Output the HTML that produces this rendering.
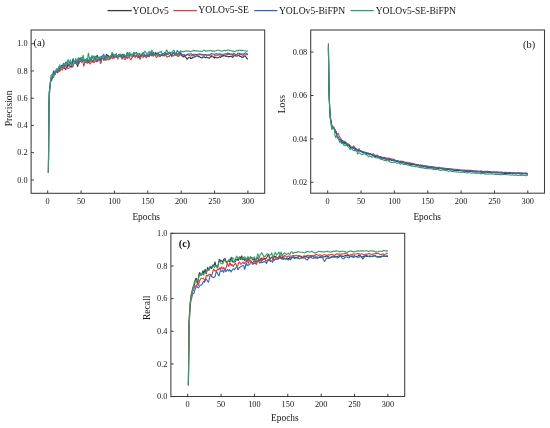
<!DOCTYPE html>
<html><head><meta charset="utf-8"><title>Figure</title>
<style>
html,body{margin:0;padding:0;background:#fff;}
body{width:550px;height:428px;overflow:hidden;}
svg{display:block;}
text{font-family:"Liberation Serif","Times New Roman",serif;fill:#141414;}
.t{font-size:8.3px;}
.l{font-size:9.4px;}
.yl{font-size:9.6px;}
.g{font-size:10.4px;}
.lg{font-size:9.6px;}
</style></head><body>
<svg width="550" height="428" viewBox="0 0 550 428">
<rect width="550" height="428" fill="#fff"/>
<line x1="107.5" y1="10.6" x2="131.8" y2="10.6" stroke="#3a3a3a" stroke-width="1.3"/>
<text x="132.6" y="14.1" class="lg" textLength="36.3" lengthAdjust="spacingAndGlyphs">YOLOv5</text>
<line x1="173.4" y1="10.6" x2="196.9" y2="10.6" stroke="#d53f3e" stroke-width="1.3"/>
<text x="198.3" y="13.3" class="lg" textLength="50.7" lengthAdjust="spacingAndGlyphs">YOLOv5-SE</text>
<line x1="254.2" y1="10.6" x2="277.3" y2="10.6" stroke="#2d69b8" stroke-width="1.3"/>
<text x="278.9" y="13.8" class="lg" textLength="66.2" lengthAdjust="spacingAndGlyphs">YOLOv5-BiFPN</text>
<line x1="350.6" y1="10.6" x2="373.8" y2="10.6" stroke="#339c6b" stroke-width="1.3"/>
<text x="375.7" y="13.8" class="lg" textLength="80.3" lengthAdjust="spacingAndGlyphs">YOLOv5-SE-BiFPN</text>
<rect x="31.1" y="30.0" width="233.6" height="163.3" fill="none" stroke="#3c3c3c" stroke-width="1.05"/>
<line x1="47.70" y1="193.3" x2="47.70" y2="190.5" stroke="#3c3c3c" stroke-width="1"/>
<text x="47.70" y="203.5" text-anchor="middle" class="t">0</text>
<line x1="81.07" y1="193.3" x2="81.07" y2="190.5" stroke="#3c3c3c" stroke-width="1"/>
<text x="81.07" y="203.5" text-anchor="middle" class="t">50</text>
<line x1="114.44" y1="193.3" x2="114.44" y2="190.5" stroke="#3c3c3c" stroke-width="1"/>
<text x="114.44" y="203.5" text-anchor="middle" class="t">100</text>
<line x1="147.81" y1="193.3" x2="147.81" y2="190.5" stroke="#3c3c3c" stroke-width="1"/>
<text x="147.81" y="203.5" text-anchor="middle" class="t">150</text>
<line x1="181.18" y1="193.3" x2="181.18" y2="190.5" stroke="#3c3c3c" stroke-width="1"/>
<text x="181.18" y="203.5" text-anchor="middle" class="t">200</text>
<line x1="214.55" y1="193.3" x2="214.55" y2="190.5" stroke="#3c3c3c" stroke-width="1"/>
<text x="214.55" y="203.5" text-anchor="middle" class="t">250</text>
<line x1="247.92" y1="193.3" x2="247.92" y2="190.5" stroke="#3c3c3c" stroke-width="1"/>
<text x="247.92" y="203.5" text-anchor="middle" class="t">300</text>
<line x1="31.1" y1="179.90" x2="33.9" y2="179.90" stroke="#3c3c3c" stroke-width="1"/>
<text x="27.6" y="182.50" text-anchor="end" class="t">0.0</text>
<line x1="31.1" y1="152.66" x2="33.9" y2="152.66" stroke="#3c3c3c" stroke-width="1"/>
<text x="27.6" y="155.26" text-anchor="end" class="t">0.2</text>
<line x1="31.1" y1="125.42" x2="33.9" y2="125.42" stroke="#3c3c3c" stroke-width="1"/>
<text x="27.6" y="128.02" text-anchor="end" class="t">0.4</text>
<line x1="31.1" y1="98.18" x2="33.9" y2="98.18" stroke="#3c3c3c" stroke-width="1"/>
<text x="27.6" y="100.78" text-anchor="end" class="t">0.6</text>
<line x1="31.1" y1="70.94" x2="33.9" y2="70.94" stroke="#3c3c3c" stroke-width="1"/>
<text x="27.6" y="73.54" text-anchor="end" class="t">0.8</text>
<line x1="31.1" y1="43.70" x2="33.9" y2="43.70" stroke="#3c3c3c" stroke-width="1"/>
<text x="27.6" y="46.30" text-anchor="end" class="t">1.0</text>
<text transform="translate(11.6,108.4) rotate(-90)" text-anchor="middle" class="yl">Precision</text>
<text x="146.2" y="219.8" text-anchor="middle" class="l">Epochs</text>
<text x="33.5" y="45.9" class="g">(a)</text>
<polyline points="48.4,173.1 49.0,105.0 49.7,88.6 50.4,82.5 51.0,80.3 51.7,77.2 52.4,78.4 53.0,75.6 53.7,71.1 54.4,73.0 55.0,73.6 55.7,71.3 56.4,71.0 57.0,71.5 57.7,72.8 58.4,71.1 59.0,68.4 59.7,68.4 60.4,70.3 61.0,68.0 61.7,65.2 62.4,67.8 63.1,64.8 63.7,64.0 64.4,68.5 65.1,68.7 65.7,69.6 66.4,67.3 67.1,64.4 67.7,66.6 68.4,64.3 69.1,65.3 69.7,65.7 70.4,66.0 71.1,67.4 71.7,66.0 72.4,63.0 73.1,58.9 73.7,61.1 74.4,62.1 75.1,61.8 75.7,62.0 76.4,62.5 77.1,65.3 77.7,66.4 78.4,63.6 79.1,58.4 79.7,58.4 80.4,61.7 81.1,59.5 81.7,58.5 82.4,60.6 83.1,60.4 83.7,60.6 84.4,61.2 85.1,62.6 85.7,61.5 86.4,59.8 87.1,58.8 87.7,59.1 88.4,62.6 89.1,62.2 89.7,57.8 90.4,58.1 91.1,61.0 91.7,61.8 92.4,61.9 93.1,60.8 93.8,60.8 94.4,58.6 95.1,57.5 95.8,59.0 96.4,57.0 97.1,55.3 97.8,57.1 98.4,58.3 99.1,57.2 99.8,57.7 100.4,60.3 101.1,59.3 101.8,56.3 102.4,56.5 103.1,58.3 103.8,58.9 104.4,58.5 105.1,58.5 105.8,56.4 106.4,54.4 107.1,54.9 107.8,55.9 108.4,55.8 109.1,56.3 109.8,57.0 110.4,57.7 111.1,57.6 111.8,54.4 112.4,53.4 113.1,56.0 113.8,57.4 114.4,57.9 115.1,56.9 115.8,55.6 116.4,57.4 117.1,57.3 117.8,56.4 118.4,55.4 119.1,54.6 119.8,54.3 120.4,54.8 121.1,56.8 121.8,56.0 122.4,54.6 123.1,54.3 123.8,56.5 124.5,56.9 125.1,55.6 125.8,56.2 126.5,56.8 127.1,54.6 127.8,54.3 128.5,56.8 129.1,55.8 129.8,54.8 130.5,55.4 131.1,54.8 131.8,54.2 132.5,54.6 133.1,54.1 133.8,54.1 134.5,55.6 135.1,56.1 135.8,56.0 136.5,55.4 137.1,55.9 137.8,57.8 138.5,56.6 139.1,56.2 139.8,58.0 140.5,56.4 141.1,55.2 141.8,55.1 142.5,54.9 143.1,56.3 143.8,56.9 144.5,56.3 145.1,55.4 145.8,55.7 146.5,55.6 147.1,56.2 147.8,55.9 148.5,56.1 149.1,56.3 149.8,54.1 150.5,52.9 151.1,52.0 151.8,54.3 152.5,55.1 153.1,52.7 153.8,52.5 154.5,54.3 155.2,54.8 155.8,52.4 156.5,54.0 157.2,55.2 157.8,52.9 158.5,53.9 159.2,54.3 159.8,54.6 160.5,55.8 161.2,55.5 161.8,54.7 162.5,54.0 163.2,53.4 163.8,54.1 164.5,55.0 165.2,53.4 165.8,52.8 166.5,54.6 167.2,54.5 167.8,53.8 168.5,54.0 169.2,53.4 169.8,52.7 170.5,52.8 171.2,55.3 171.8,56.5 172.5,54.4 173.2,53.5 173.8,53.1 174.5,52.7 175.2,54.2 175.8,53.5 176.5,53.5 177.2,56.0 177.8,53.7 178.5,53.6 179.2,54.7 179.8,52.5 180.5,53.0 181.2,55.4 181.8,55.2 182.5,56.4 183.2,56.9 183.8,56.6 184.5,56.7 185.2,56.5 185.9,57.4 186.5,58.4 187.2,59.3 187.9,58.3 188.5,57.6 189.2,57.5 189.9,57.3 190.5,58.4 191.2,58.4 191.9,58.5 192.5,57.3 193.2,57.2 193.9,57.4 194.5,56.7 195.2,56.8 195.9,56.0 196.5,55.9 197.2,55.9 197.9,56.4 198.5,56.7 199.2,56.4 199.9,56.9 200.5,57.5 201.2,57.6 201.9,58.2 202.5,57.3 203.2,56.7 203.9,57.2 204.5,56.9 205.2,57.7 205.9,57.7 206.5,56.9 207.2,57.4 207.9,57.9 208.5,57.7 209.2,58.2 209.9,57.5 210.5,56.6 211.2,56.8 211.9,56.4 212.5,56.8 213.2,57.0 213.9,57.3 214.6,58.1 215.2,57.4 215.9,57.2 216.6,57.7 217.2,57.7 217.9,57.8 218.6,57.6 219.2,57.1 219.9,56.7 220.6,57.4 221.2,56.8 221.9,56.3 222.6,55.9 223.2,55.1 223.9,55.7 224.6,55.6 225.2,56.1 225.9,56.1 226.6,56.5 227.2,56.2 227.9,56.3 228.6,56.9 229.2,56.6 229.9,56.6 230.6,56.3 231.2,56.4 231.9,56.7 232.6,57.4 233.2,56.7 233.9,56.0 234.6,55.5 235.2,55.1 235.9,56.1 236.6,56.0 237.2,55.9 237.9,55.7 238.6,55.5 239.2,55.6 239.9,56.4 240.6,56.3 241.2,56.6 241.9,57.4 242.6,57.1 243.2,57.2 243.9,56.2 244.6,55.9 245.3,56.1 245.9,56.7 246.6,58.2 247.3,58.9 247.9,58.7" fill="none" stroke="#3a3a3a" stroke-width="1.1" stroke-linejoin="round"/>
<polyline points="48.4,173.1 49.0,105.0 49.7,88.6 50.4,82.5 51.0,78.4 51.7,77.2 52.4,76.0 53.0,75.8 53.7,75.4 54.4,74.1 55.0,74.6 55.7,72.5 56.4,71.5 57.0,72.0 57.7,70.7 58.4,68.9 59.0,71.6 59.7,71.5 60.4,68.1 61.0,69.6 61.7,69.7 62.4,70.1 63.1,68.3 63.7,66.5 64.4,68.3 65.1,66.0 65.7,65.7 66.4,66.3 67.1,67.2 67.7,68.6 68.4,68.8 69.1,68.0 69.7,64.5 70.4,63.7 71.1,63.6 71.7,65.1 72.4,67.2 73.1,66.3 73.7,64.2 74.4,62.9 75.1,63.5 75.7,63.0 76.4,63.0 77.1,63.7 77.7,61.7 78.4,62.3 79.1,63.6 79.7,60.7 80.4,60.6 81.1,61.6 81.7,62.4 82.4,60.7 83.1,62.6 83.7,66.2 84.4,64.6 85.1,61.2 85.7,59.4 86.4,61.5 87.1,63.4 87.7,62.5 88.4,60.7 89.1,61.9 89.7,63.6 90.4,64.0 91.1,61.9 91.7,60.2 92.4,60.2 93.1,60.7 93.8,62.7 94.4,62.3 95.1,61.4 95.8,61.3 96.4,59.5 97.1,60.2 97.8,61.8 98.4,59.8 99.1,58.2 99.8,59.9 100.4,63.5 101.1,62.8 101.8,58.7 102.4,57.3 103.1,58.7 103.8,60.5 104.4,60.1 105.1,58.5 105.8,59.2 106.4,60.1 107.1,59.7 107.8,59.3 108.4,59.8 109.1,59.6 109.8,58.4 110.4,59.0 111.1,57.8 111.8,56.4 112.4,58.6 113.1,58.7 113.8,56.3 114.4,57.6 115.1,56.7 115.8,56.2 116.4,56.2 117.1,57.0 117.8,59.1 118.4,57.2 119.1,54.2 119.8,54.7 120.4,55.9 121.1,57.0 121.8,59.1 122.4,58.8 123.1,56.0 123.8,57.6 124.5,59.5 125.1,59.5 125.8,58.9 126.5,56.1 127.1,57.4 127.8,58.6 128.5,56.1 129.1,55.8 129.8,58.1 130.5,59.3 131.1,59.9 131.8,57.9 132.5,56.7 133.1,56.4 133.8,54.9 134.5,56.4 135.1,57.7 135.8,56.3 136.5,55.7 137.1,56.1 137.8,57.7 138.5,57.1 139.1,56.4 139.8,59.2 140.5,58.9 141.1,56.5 141.8,54.0 142.5,54.7 143.1,57.7 143.8,55.4 144.5,54.1 145.1,56.2 145.8,57.2 146.5,57.9 147.1,55.6 147.8,54.9 148.5,56.6 149.1,56.8 149.8,55.0 150.5,55.0 151.1,55.8 151.8,55.1 152.5,55.4 153.1,56.3 153.8,55.9 154.5,53.8 155.2,54.4 155.8,56.5 156.5,57.6 157.2,56.6 157.8,55.7 158.5,55.9 159.2,55.7 159.8,56.8 160.5,56.1 161.2,54.7 161.8,55.4 162.5,55.4 163.2,54.5 163.8,54.6 164.5,56.1 165.2,55.2 165.8,54.8 166.5,56.3 167.2,57.2 167.8,56.6 168.5,56.2 169.2,56.6 169.8,55.3 170.5,54.9 171.2,54.4 171.8,54.2 172.5,55.3 173.2,55.8 173.8,55.9 174.5,55.0 175.2,54.6 175.8,55.4 176.5,54.8 177.2,54.3 177.8,55.4 178.5,56.6 179.2,55.8 179.8,54.5 180.5,54.8 181.2,55.0 181.8,54.9 182.5,55.0 183.2,54.7 183.8,55.0 184.5,55.5 185.2,55.3 185.9,55.3 186.5,55.3 187.2,54.8 187.9,54.8 188.5,55.3 189.2,55.3 189.9,55.6 190.5,56.1 191.2,55.6 191.9,55.8 192.5,55.8 193.2,55.5 193.9,55.5 194.5,55.1 195.2,54.4 195.9,54.6 196.5,54.6 197.2,55.0 197.9,55.5 198.5,55.0 199.2,54.8 199.9,54.6 200.5,54.8 201.2,54.8 201.9,55.1 202.5,54.7 203.2,54.9 203.9,54.8 204.5,54.5 205.2,54.6 205.9,54.6 206.5,55.0 207.2,55.2 207.9,55.3 208.5,55.1 209.2,55.1 209.9,55.1 210.5,54.8 211.2,55.3 211.9,55.6 212.5,56.0 213.2,56.6 213.9,56.5 214.6,56.0 215.2,55.5 215.9,55.4 216.6,55.1 217.2,55.2 217.9,55.2 218.6,55.0 219.2,55.0 219.9,54.9 220.6,55.3 221.2,55.1 221.9,55.7 222.6,56.0 223.2,56.0 223.9,56.1 224.6,55.6 225.2,55.0 225.9,55.1 226.6,54.7 227.2,54.2 227.9,54.7 228.6,54.1 229.2,54.1 229.9,53.9 230.6,54.5 231.2,54.3 231.9,54.9 232.6,55.5 233.2,54.7 233.9,55.4 234.6,55.4 235.2,54.9 235.9,55.2 236.6,54.7 237.2,55.0 237.9,55.0 238.6,55.0 239.2,55.2 239.9,54.4 240.6,54.4 241.2,54.6 241.9,54.6 242.6,55.3 243.2,55.3 243.9,55.0 244.6,54.9 245.3,54.7 245.9,54.8 246.6,54.7 247.3,54.5 247.9,54.6" fill="none" stroke="#d53f3e" stroke-width="1.1" stroke-linejoin="round"/>
<polyline points="48.4,173.1 49.0,92.7 49.7,88.6 50.4,82.5 51.0,80.9 51.7,80.6 52.4,76.8 53.0,73.1 53.7,70.8 54.4,71.6 55.0,74.5 55.7,72.9 56.4,70.6 57.0,70.0 57.7,69.0 58.4,68.1 59.0,67.0 59.7,66.4 60.4,67.6 61.0,67.0 61.7,66.7 62.4,67.6 63.1,64.0 63.7,63.3 64.4,67.2 65.1,65.3 65.7,62.0 66.4,62.2 67.1,63.0 67.7,63.8 68.4,64.2 69.1,65.3 69.7,62.7 70.4,62.0 71.1,64.5 71.7,64.3 72.4,61.0 73.1,59.1 73.7,61.9 74.4,62.9 75.1,61.6 75.7,60.3 76.4,62.8 77.1,62.6 77.7,60.7 78.4,62.6 79.1,62.6 79.7,60.6 80.4,57.8 81.1,58.5 81.7,59.9 82.4,60.9 83.1,60.9 83.7,58.7 84.4,61.0 85.1,62.5 85.7,59.6 86.4,61.0 87.1,62.3 87.7,59.4 88.4,60.8 89.1,61.9 89.7,59.7 90.4,58.1 91.1,59.5 91.7,59.2 92.4,57.3 93.1,57.1 93.8,56.0 94.4,56.9 95.1,57.6 95.8,59.8 96.4,61.8 97.1,60.9 97.8,59.6 98.4,57.4 99.1,58.9 99.8,60.2 100.4,59.6 101.1,60.8 101.8,57.7 102.4,55.8 103.1,55.5 103.8,54.3 104.4,56.9 105.1,60.1 105.8,56.8 106.4,55.2 107.1,58.5 107.8,57.3 108.4,55.8 109.1,57.2 109.8,57.6 110.4,56.7 111.1,56.1 111.8,55.4 112.4,55.8 113.1,56.9 113.8,55.9 114.4,55.2 115.1,54.6 115.8,55.1 116.4,56.3 117.1,57.2 117.8,55.5 118.4,55.7 119.1,57.0 119.8,56.4 120.4,56.2 121.1,54.6 121.8,56.5 122.4,57.4 123.1,57.4 123.8,55.8 124.5,54.5 125.1,57.3 125.8,57.6 126.5,54.7 127.1,52.6 127.8,52.6 128.5,54.7 129.1,56.0 129.8,53.7 130.5,54.2 131.1,56.0 131.8,56.2 132.5,57.0 133.1,54.9 133.8,53.2 134.5,53.9 135.1,53.9 135.8,53.3 136.5,52.4 137.1,53.3 137.8,55.0 138.5,55.9 139.1,54.6 139.8,54.1 140.5,56.4 141.1,56.1 141.8,54.7 142.5,53.7 143.1,52.8 143.8,54.1 144.5,55.7 145.1,55.3 145.8,55.6 146.5,55.4 147.1,53.9 147.8,53.7 148.5,55.5 149.1,56.6 149.8,54.0 150.5,53.9 151.1,54.3 151.8,52.9 152.5,53.8 153.1,55.1 153.8,54.7 154.5,54.5 155.2,54.9 155.8,54.0 156.5,54.4 157.2,54.7 157.8,54.3 158.5,55.2 159.2,55.0 159.8,54.5 160.5,55.9 161.2,55.6 161.8,54.3 162.5,54.5 163.2,55.9 163.8,54.8 164.5,52.5 165.2,52.5 165.8,52.8 166.5,54.4 167.2,54.5 167.8,54.2 168.5,52.5 169.2,52.2 169.8,53.4 170.5,54.2 171.2,55.7 171.8,54.9 172.5,53.3 173.2,52.4 173.8,52.7 174.5,54.7 175.2,54.0 175.8,53.2 176.5,52.8 177.2,50.5 177.8,51.2 178.5,51.9 179.2,53.5 179.8,52.4 180.5,51.8 181.2,53.4 181.8,54.7 182.5,54.8 183.2,54.9 183.8,55.0 184.5,54.6 185.2,55.5 185.9,55.4 186.5,54.8 187.2,54.4 187.9,54.0 188.5,54.1 189.2,54.3 189.9,53.9 190.5,54.1 191.2,53.7 191.9,54.4 192.5,54.6 193.2,54.5 193.9,54.2 194.5,54.4 195.2,54.6 195.9,54.7 196.5,55.1 197.2,54.4 197.9,54.3 198.5,54.0 199.2,54.0 199.9,53.9 200.5,54.1 201.2,54.4 201.9,54.4 202.5,54.6 203.2,55.2 203.9,54.6 204.5,55.2 205.2,54.9 205.9,54.7 206.5,55.3 207.2,55.0 207.9,55.0 208.5,54.8 209.2,55.1 209.9,54.7 210.5,54.2 211.2,53.8 211.9,53.3 212.5,53.8 213.2,54.3 213.9,54.2 214.6,54.5 215.2,53.8 215.9,53.8 216.6,53.8 217.2,53.7 217.9,54.2 218.6,54.1 219.2,54.1 219.9,53.8 220.6,54.0 221.2,54.3 221.9,54.4 222.6,55.2 223.2,54.5 223.9,54.1 224.6,54.1 225.2,53.7 225.9,53.8 226.6,54.0 227.2,53.3 227.9,52.9 228.6,53.7 229.2,53.4 229.9,54.2 230.6,54.5 231.2,54.1 231.9,54.3 232.6,54.1 233.2,53.6 233.9,53.4 234.6,53.6 235.2,54.1 235.9,54.7 236.6,54.7 237.2,54.1 237.9,53.1 238.6,53.2 239.2,53.3 239.9,53.7 240.6,54.4 241.2,53.9 241.9,54.0 242.6,54.0 243.2,54.1 243.9,54.0 244.6,53.6 245.3,52.9 245.9,52.9 246.6,53.4 247.3,53.8 247.9,54.6" fill="none" stroke="#2d69b8" stroke-width="1.1" stroke-linejoin="round"/>
<polyline points="48.4,173.1 49.0,106.4 49.7,88.6 50.4,82.5 51.0,75.3 51.7,74.8 52.4,75.0 53.0,75.9 53.7,77.4 54.4,74.8 55.0,73.2 55.7,70.8 56.4,68.6 57.0,71.1 57.7,70.7 58.4,69.5 59.0,67.1 59.7,64.7 60.4,66.7 61.0,67.0 61.7,66.9 62.4,66.3 63.1,66.9 63.7,65.5 64.4,63.9 65.1,63.5 65.7,63.7 66.4,63.5 67.1,64.2 67.7,60.0 68.4,59.7 69.1,64.8 69.7,62.3 70.4,59.9 71.1,62.0 71.7,65.6 72.4,66.1 73.1,65.1 73.7,64.1 74.4,62.8 75.1,60.3 75.7,58.5 76.4,60.5 77.1,61.0 77.7,59.0 78.4,57.7 79.1,58.9 79.7,61.5 80.4,60.2 81.1,57.3 81.7,58.7 82.4,58.0 83.1,55.2 83.7,57.8 84.4,61.6 85.1,61.9 85.7,60.3 86.4,58.8 87.1,60.3 87.7,57.9 88.4,53.1 89.1,56.7 89.7,61.5 90.4,60.8 91.1,58.0 91.7,56.1 92.4,55.7 93.1,57.4 93.8,60.4 94.4,59.5 95.1,56.2 95.8,57.0 96.4,57.6 97.1,56.9 97.8,57.4 98.4,58.8 99.1,58.0 99.8,58.2 100.4,57.0 101.1,56.3 101.8,57.2 102.4,56.9 103.1,57.0 103.8,56.3 104.4,56.1 105.1,56.6 105.8,58.8 106.4,58.2 107.1,56.7 107.8,57.9 108.4,58.2 109.1,58.3 109.8,57.4 110.4,55.9 111.1,56.0 111.8,52.8 112.4,52.6 113.1,54.8 113.8,54.3 114.4,54.8 115.1,56.0 115.8,54.9 116.4,53.2 117.1,57.0 117.8,58.1 118.4,55.5 119.1,55.9 119.8,54.3 120.4,54.2 121.1,54.5 121.8,54.5 122.4,55.7 123.1,54.4 123.8,54.7 124.5,55.5 125.1,55.8 125.8,56.5 126.5,54.7 127.1,53.2 127.8,55.0 128.5,56.6 129.1,53.1 129.8,52.5 130.5,55.7 131.1,54.6 131.8,54.4 132.5,55.2 133.1,53.6 133.8,52.3 134.5,53.3 135.1,53.0 135.8,52.9 136.5,54.3 137.1,54.1 137.8,54.2 138.5,53.6 139.1,53.1 139.8,54.2 140.5,54.3 141.1,54.0 141.8,54.7 142.5,54.3 143.1,52.8 143.8,52.4 144.5,52.2 145.1,51.0 145.8,52.1 146.5,54.0 147.1,54.6 147.8,53.8 148.5,52.3 149.1,51.2 149.8,53.1 150.5,53.6 151.1,51.5 151.8,50.2 152.5,50.9 153.1,53.1 153.8,54.5 154.5,55.1 155.2,54.7 155.8,54.9 156.5,54.7 157.2,55.1 157.8,54.4 158.5,52.8 159.2,52.0 159.8,52.4 160.5,52.1 161.2,51.1 161.8,53.3 162.5,54.4 163.2,54.1 163.8,54.7 164.5,53.5 165.2,52.8 165.8,51.7 166.5,49.9 167.2,50.7 167.8,52.5 168.5,53.0 169.2,52.8 169.8,52.2 170.5,52.8 171.2,52.8 171.8,52.3 172.5,51.9 173.2,50.6 173.8,50.1 174.5,51.3 175.2,53.7 175.8,54.9 176.5,54.1 177.2,53.8 177.8,54.9 178.5,54.0 179.2,53.4 179.8,52.5 180.5,50.7 181.2,51.2 181.8,51.6 182.5,51.6 183.2,51.8 183.8,51.5 184.5,51.4 185.2,51.1 185.9,51.1 186.5,51.2 187.2,50.8 187.9,51.0 188.5,51.0 189.2,51.1 189.9,51.5 190.5,51.5 191.2,51.3 191.9,51.2 192.5,50.9 193.2,50.4 193.9,50.6 194.5,50.5 195.2,50.7 195.9,51.1 196.5,50.9 197.2,51.1 197.9,51.3 198.5,50.9 199.2,51.0 199.9,51.2 200.5,51.3 201.2,51.6 201.9,51.5 202.5,51.1 203.2,50.4 203.9,50.4 204.5,50.4 205.2,50.9 205.9,51.1 206.5,50.9 207.2,51.1 207.9,50.8 208.5,50.8 209.2,51.0 209.9,50.5 210.5,50.7 211.2,50.5 211.9,50.8 212.5,51.2 213.2,51.1 213.9,51.4 214.6,51.2 215.2,51.0 215.9,50.8 216.6,50.4 217.2,50.2 217.9,50.3 218.6,50.2 219.2,50.6 219.9,50.7 220.6,50.8 221.2,51.1 221.9,51.2 222.6,50.9 223.2,50.6 223.9,50.5 224.6,50.4 225.2,50.6 225.9,50.7 226.6,50.4 227.2,50.3 227.9,49.9 228.6,50.0 229.2,50.2 229.9,50.7 230.6,50.8 231.2,50.8 231.9,51.1 232.6,51.0 233.2,51.1 233.9,51.4 234.6,51.5 235.2,51.2 235.9,51.2 236.6,50.7 237.2,50.8 237.9,50.6 238.6,50.4 239.2,50.3 239.9,50.2 240.6,50.4 241.2,50.4 241.9,50.6 242.6,50.4 243.2,50.6 243.9,50.7 244.6,50.7 245.3,50.7 245.9,50.9 246.6,51.3 247.3,51.1 247.9,50.7" fill="none" stroke="#339c6b" stroke-width="1.1" stroke-linejoin="round"/>
<rect x="310.7" y="30.0" width="233.8" height="163.2" fill="none" stroke="#3c3c3c" stroke-width="1.05"/>
<line x1="327.70" y1="193.2" x2="327.70" y2="190.39999999999998" stroke="#3c3c3c" stroke-width="1"/>
<text x="327.70" y="203.5" text-anchor="middle" class="t">0</text>
<line x1="361.05" y1="193.2" x2="361.05" y2="190.39999999999998" stroke="#3c3c3c" stroke-width="1"/>
<text x="361.05" y="203.5" text-anchor="middle" class="t">50</text>
<line x1="394.40" y1="193.2" x2="394.40" y2="190.39999999999998" stroke="#3c3c3c" stroke-width="1"/>
<text x="394.40" y="203.5" text-anchor="middle" class="t">100</text>
<line x1="427.75" y1="193.2" x2="427.75" y2="190.39999999999998" stroke="#3c3c3c" stroke-width="1"/>
<text x="427.75" y="203.5" text-anchor="middle" class="t">150</text>
<line x1="461.10" y1="193.2" x2="461.10" y2="190.39999999999998" stroke="#3c3c3c" stroke-width="1"/>
<text x="461.10" y="203.5" text-anchor="middle" class="t">200</text>
<line x1="494.45" y1="193.2" x2="494.45" y2="190.39999999999998" stroke="#3c3c3c" stroke-width="1"/>
<text x="494.45" y="203.5" text-anchor="middle" class="t">250</text>
<line x1="527.80" y1="193.2" x2="527.80" y2="190.39999999999998" stroke="#3c3c3c" stroke-width="1"/>
<text x="527.80" y="203.5" text-anchor="middle" class="t">300</text>
<line x1="310.7" y1="182.30" x2="313.5" y2="182.30" stroke="#3c3c3c" stroke-width="1"/>
<text x="307.2" y="184.90" text-anchor="end" class="t">0.02</text>
<line x1="310.7" y1="138.90" x2="313.5" y2="138.90" stroke="#3c3c3c" stroke-width="1"/>
<text x="307.2" y="141.50" text-anchor="end" class="t">0.04</text>
<line x1="310.7" y1="95.50" x2="313.5" y2="95.50" stroke="#3c3c3c" stroke-width="1"/>
<text x="307.2" y="98.10" text-anchor="end" class="t">0.06</text>
<line x1="310.7" y1="52.10" x2="313.5" y2="52.10" stroke="#3c3c3c" stroke-width="1"/>
<text x="307.2" y="54.70" text-anchor="end" class="t">0.08</text>
<text transform="translate(285.3,104.2) rotate(-90)" text-anchor="middle" class="yl">Loss</text>
<text x="427.2" y="219.8" text-anchor="middle" class="l">Epochs</text>
<text x="523.1" y="47.8" class="g">(b)</text>
<polyline points="328.4,43.2 329.0,91.2 329.7,108.5 330.4,117.9 331.0,120.2 331.7,124.1 332.4,127.8 333.0,128.3 333.7,128.7 334.4,128.0 335.0,130.9 335.7,132.4 336.4,131.6 337.0,133.7 337.7,134.2 338.4,133.6 339.0,135.4 339.7,137.3 340.4,137.9 341.0,138.8 341.7,140.1 342.4,141.3 343.0,140.8 343.7,141.2 344.4,141.5 345.0,141.2 345.7,142.6 346.4,143.3 347.0,143.4 347.7,144.2 348.4,144.0 349.0,144.3 349.7,145.2 350.4,146.7 351.0,146.9 351.7,147.0 352.4,147.8 353.0,146.6 353.7,145.8 354.4,147.2 355.0,149.0 355.7,148.9 356.4,148.8 357.0,149.1 357.7,149.9 358.4,149.8 359.0,148.7 359.7,150.2 360.4,151.5 361.1,151.4 361.7,151.0 362.4,151.8 363.1,152.2 363.7,151.7 364.4,152.4 365.1,152.2 365.7,152.9 366.4,153.9 367.1,153.7 367.7,153.1 368.4,153.1 369.1,153.9 369.7,153.8 370.4,153.9 371.1,154.5 371.7,154.6 372.4,154.5 373.1,153.7 373.7,154.3 374.4,155.3 375.1,155.2 375.7,155.5 376.4,155.2 377.1,155.0 377.7,155.5 378.4,156.0 379.1,156.6 379.7,156.6 380.4,156.6 381.1,157.0 381.7,156.9 382.4,157.2 383.1,157.8 383.7,157.4 384.4,157.4 385.1,157.6 385.7,158.0 386.4,158.1 387.1,158.2 387.7,158.2 388.4,158.0 389.1,158.4 389.7,158.4 390.4,158.6 391.1,159.2 391.7,159.1 392.4,159.0 393.1,159.2 393.7,159.4 394.4,159.6 395.1,159.9 395.7,160.6 396.4,160.8 397.1,160.5 397.7,160.8 398.4,161.5 399.1,161.5 399.7,161.2 400.4,161.0 401.1,161.4 401.7,161.4 402.4,161.4 403.1,161.4 403.7,161.5 404.4,162.0 405.1,162.2 405.7,162.3 406.4,162.4 407.1,162.4 407.7,162.7 408.4,162.7 409.1,162.8 409.7,163.0 410.4,163.1 411.1,163.4 411.7,163.4 412.4,163.3 413.1,163.4 413.7,163.6 414.4,163.9 415.1,164.1 415.7,164.2 416.4,164.6 417.1,164.9 417.7,164.5 418.4,164.5 419.1,165.3 419.7,165.4 420.4,165.1 421.1,165.4 421.7,165.2 422.4,164.9 423.1,165.3 423.7,165.5 424.4,165.7 425.1,165.6 425.7,165.7 426.4,166.0 427.1,166.1 427.8,166.1 428.4,166.2 429.1,166.4 429.8,166.5 430.4,166.5 431.1,166.6 431.8,166.6 432.4,166.9 433.1,166.9 433.8,166.7 434.4,167.1 435.1,167.3 435.8,167.3 436.4,167.4 437.1,167.3 437.8,167.2 438.4,167.2 439.1,167.3 439.8,167.8 440.4,167.8 441.1,168.1 441.8,168.0 442.4,167.7 443.1,167.9 443.8,168.0 444.4,168.3 445.1,168.4 445.8,168.4 446.4,168.6 447.1,168.5 447.8,168.6 448.4,168.6 449.1,168.6 449.8,168.8 450.4,168.8 451.1,169.1 451.8,169.1 452.4,169.0 453.1,169.1 453.8,169.2 454.4,169.3 455.1,169.3 455.8,169.4 456.4,169.5 457.1,169.4 457.8,169.6 458.4,169.9 459.1,169.9 459.8,170.0 460.4,170.1 461.1,170.1 461.8,170.0 462.4,170.0 463.1,170.2 463.8,170.2 464.4,170.0 465.1,170.1 465.8,170.3 466.4,170.5 467.1,170.2 467.8,170.0 468.4,170.2 469.1,170.5 469.8,170.4 470.4,170.4 471.1,170.4 471.8,170.5 472.4,170.7 473.1,170.7 473.8,170.7 474.4,170.8 475.1,170.8 475.8,170.8 476.4,171.0 477.1,171.0 477.8,170.9 478.4,171.2 479.1,171.3 479.8,171.1 480.4,171.1 481.1,170.9 481.8,171.1 482.4,171.3 483.1,171.4 483.8,171.6 484.4,171.5 485.1,171.4 485.8,171.4 486.4,171.4 487.1,171.4 487.8,171.4 488.4,171.5 489.1,171.6 489.8,171.7 490.4,171.7 491.1,171.6 491.8,171.7 492.4,172.1 493.1,172.2 493.8,171.7 494.4,171.6 495.1,172.0 495.8,172.0 496.5,171.9 497.1,171.9 497.8,172.0 498.5,172.2 499.1,172.2 499.8,172.3 500.5,172.2 501.1,172.0 501.8,171.9 502.5,172.2 503.1,172.4 503.8,172.5 504.5,172.4 505.1,172.2 505.8,172.2 506.5,172.3 507.1,172.5 507.8,172.7 508.5,172.5 509.1,172.5 509.8,172.4 510.5,172.6 511.1,172.9 511.8,172.8 512.5,172.7 513.1,172.6 513.8,172.7 514.5,172.7 515.1,172.8 515.8,172.9 516.5,172.9 517.1,173.0 517.8,172.9 518.5,172.9 519.1,172.5 519.8,172.7 520.5,173.1 521.1,172.9 521.8,172.9 522.5,172.9 523.1,173.0 523.8,173.1 524.5,173.1 525.1,173.1 525.8,173.0 526.5,173.1 527.1,173.2 527.8,173.4" fill="none" stroke="#d53f3e" stroke-width="1.1" stroke-linejoin="round"/>
<polyline points="328.4,47.5 329.0,91.2 329.7,108.5 330.4,119.0 331.0,120.7 331.7,126.6 332.4,128.8 333.0,126.5 333.7,127.8 334.4,129.0 335.0,130.1 335.7,132.0 336.4,133.9 337.0,136.6 337.7,137.5 338.4,138.1 339.0,139.0 339.7,140.1 340.4,139.6 341.0,140.1 341.7,142.3 342.4,142.9 343.0,142.0 343.7,143.4 344.4,143.9 345.0,142.5 345.7,142.5 346.4,143.7 347.0,145.5 347.7,145.5 348.4,145.4 349.0,145.1 349.7,145.6 350.4,147.0 351.0,148.1 351.7,148.3 352.4,147.9 353.0,147.5 353.7,147.9 354.4,148.1 355.0,147.9 355.7,149.2 356.4,150.7 357.0,150.9 357.7,150.8 358.4,151.1 359.0,151.0 359.7,150.6 360.4,150.6 361.1,151.1 361.7,152.0 362.4,152.2 363.1,152.7 363.7,153.0 364.4,153.2 365.1,153.0 365.7,153.9 366.4,154.3 367.1,153.2 367.7,153.7 368.4,154.1 369.1,154.2 369.7,154.1 370.4,153.8 371.1,154.5 371.7,154.7 372.4,155.1 373.1,155.7 373.7,155.5 374.4,156.2 375.1,156.4 375.7,156.4 376.4,156.5 377.1,156.7 377.7,157.6 378.4,157.9 379.1,157.6 379.7,157.3 380.4,157.3 381.1,157.8 381.7,157.9 382.4,158.0 383.1,158.4 383.7,158.2 384.4,158.3 385.1,159.2 385.7,159.2 386.4,158.8 387.1,159.3 387.7,159.1 388.4,159.3 389.1,159.6 389.7,159.6 390.4,159.3 391.1,159.9 391.7,160.6 392.4,160.2 393.1,160.2 393.7,160.5 394.4,161.0 395.1,160.8 395.7,160.9 396.4,161.2 397.1,161.3 397.7,161.4 398.4,161.8 399.1,162.2 399.7,162.0 400.4,162.1 401.1,162.0 401.7,162.1 402.4,162.3 403.1,162.6 403.7,162.6 404.4,162.8 405.1,163.2 405.7,163.5 406.4,163.8 407.1,163.5 407.7,163.5 408.4,164.1 409.1,164.2 409.7,164.1 410.4,164.4 411.1,164.4 411.7,164.4 412.4,164.6 413.1,164.5 413.7,164.7 414.4,164.8 415.1,164.9 415.7,165.3 416.4,165.1 417.1,165.2 417.7,165.5 418.4,165.7 419.1,165.8 419.7,166.1 420.4,166.1 421.1,166.0 421.7,166.4 422.4,166.7 423.1,166.5 423.7,166.6 424.4,166.5 425.1,166.6 425.7,166.9 426.4,167.2 427.1,167.4 427.8,167.2 428.4,167.2 429.1,167.2 429.8,167.4 430.4,167.2 431.1,167.1 431.8,167.6 432.4,167.7 433.1,168.1 433.8,168.3 434.4,167.8 435.1,167.9 435.8,168.1 436.4,168.3 437.1,168.3 437.8,168.2 438.4,168.4 439.1,168.4 439.8,168.2 440.4,168.3 441.1,168.8 441.8,168.9 442.4,168.8 443.1,169.0 443.8,169.3 444.4,169.3 445.1,169.2 445.8,169.3 446.4,169.4 447.1,169.4 447.8,169.4 448.4,169.5 449.1,169.6 449.8,169.7 450.4,170.0 451.1,170.0 451.8,169.8 452.4,169.5 453.1,169.9 453.8,170.4 454.4,170.3 455.1,170.3 455.8,170.4 456.4,170.4 457.1,170.3 457.8,170.5 458.4,170.6 459.1,170.4 459.8,170.4 460.4,170.8 461.1,170.8 461.8,170.7 462.4,170.9 463.1,171.0 463.8,171.1 464.4,171.1 465.1,171.1 465.8,171.1 466.4,171.4 467.1,171.4 467.8,171.3 468.4,171.5 469.1,171.4 469.8,171.4 470.4,171.4 471.1,171.2 471.8,171.3 472.4,171.4 473.1,171.6 473.8,171.7 474.4,171.9 475.1,171.9 475.8,171.8 476.4,172.1 477.1,172.0 477.8,171.7 478.4,171.7 479.1,171.8 479.8,171.9 480.4,172.1 481.1,172.1 481.8,172.1 482.4,172.3 483.1,172.2 483.8,172.1 484.4,172.3 485.1,172.3 485.8,172.3 486.4,172.3 487.1,172.1 487.8,172.3 488.4,172.6 489.1,172.5 489.8,172.1 490.4,172.4 491.1,172.7 491.8,172.8 492.4,172.8 493.1,172.7 493.8,172.7 494.4,172.7 495.1,172.8 495.8,173.0 496.5,173.0 497.1,172.9 497.8,172.7 498.5,172.7 499.1,172.9 499.8,172.9 500.5,172.9 501.1,172.9 501.8,172.9 502.5,173.1 503.1,173.2 503.8,173.3 504.5,173.4 505.1,173.3 505.8,173.4 506.5,173.4 507.1,173.1 507.8,173.2 508.5,173.5 509.1,173.5 509.8,173.4 510.5,173.2 511.1,173.3 511.8,173.4 512.5,173.6 513.1,173.6 513.8,173.4 514.5,173.5 515.1,173.6 515.8,173.7 516.5,173.6 517.1,173.5 517.8,173.5 518.5,173.6 519.1,173.7 519.8,173.8 520.5,173.9 521.1,173.9 521.8,173.9 522.5,173.9 523.1,173.8 523.8,173.7 524.5,173.7 525.1,173.7 525.8,173.9 526.5,174.0 527.1,174.2 527.8,174.1" fill="none" stroke="#3a3a3a" stroke-width="1.1" stroke-linejoin="round"/>
<polyline points="328.4,46.5 329.0,91.2 329.7,108.5 330.4,119.0 331.0,122.6 331.7,125.5 332.4,126.4 333.0,127.3 333.7,128.0 334.4,128.2 335.0,130.3 335.7,132.0 336.4,132.4 337.0,135.7 337.7,137.7 338.4,137.0 339.0,139.1 339.7,142.2 340.4,141.3 341.0,140.2 341.7,140.6 342.4,140.5 343.0,141.3 343.7,142.1 344.4,142.5 345.0,143.4 345.7,144.2 346.4,143.7 347.0,144.0 347.7,144.6 348.4,144.8 349.0,145.7 349.7,146.7 350.4,146.4 351.0,146.7 351.7,147.3 352.4,148.0 353.0,148.4 353.7,147.8 354.4,148.5 355.0,149.8 355.7,149.9 356.4,149.4 357.0,149.8 357.7,150.5 358.4,150.1 359.0,150.1 359.7,151.0 360.4,150.8 361.1,150.9 361.7,151.8 362.4,151.7 363.1,151.8 363.7,152.0 364.4,152.4 365.1,152.9 365.7,152.3 366.4,152.5 367.1,153.0 367.7,153.2 368.4,153.3 369.1,153.7 369.7,154.0 370.4,154.3 371.1,154.0 371.7,154.4 372.4,155.0 373.1,155.2 373.7,155.5 374.4,155.0 375.1,155.7 375.7,155.7 376.4,155.8 377.1,156.8 377.7,156.6 378.4,156.8 379.1,156.8 379.7,156.5 380.4,157.7 381.1,158.4 381.7,158.0 382.4,157.7 383.1,158.0 383.7,158.4 384.4,158.1 385.1,158.4 385.7,158.6 386.4,158.9 387.1,158.8 387.7,158.3 388.4,159.0 389.1,160.0 389.7,160.3 390.4,159.7 391.1,159.6 391.7,159.7 392.4,160.0 393.1,160.6 393.7,160.5 394.4,160.2 395.1,160.3 395.7,160.9 396.4,160.9 397.1,160.8 397.7,160.9 398.4,161.1 399.1,161.5 399.7,161.6 400.4,162.1 401.1,162.2 401.7,161.7 402.4,161.8 403.1,162.3 403.7,162.8 404.4,162.6 405.1,162.5 405.7,162.9 406.4,162.9 407.1,163.1 407.7,163.3 408.4,163.1 409.1,163.3 409.7,163.4 410.4,163.3 411.1,163.7 411.7,163.8 412.4,163.8 413.1,163.9 413.7,164.1 414.4,164.5 415.1,164.5 415.7,164.5 416.4,165.0 417.1,165.0 417.7,164.9 418.4,165.1 419.1,165.3 419.7,165.4 420.4,165.2 421.1,165.4 421.7,166.0 422.4,166.2 423.1,166.0 423.7,166.1 424.4,166.3 425.1,166.3 425.7,166.2 426.4,166.4 427.1,166.6 427.8,166.7 428.4,166.9 429.1,166.9 429.8,167.1 430.4,167.1 431.1,167.0 431.8,167.2 432.4,167.3 433.1,167.3 433.8,167.5 434.4,167.7 435.1,167.7 435.8,167.6 436.4,167.8 437.1,168.0 437.8,167.8 438.4,168.0 439.1,168.3 439.8,168.4 440.4,168.5 441.1,168.4 441.8,168.2 442.4,168.6 443.1,168.7 443.8,168.6 444.4,168.7 445.1,168.9 445.8,168.9 446.4,168.9 447.1,169.1 447.8,169.1 448.4,169.2 449.1,169.3 449.8,169.3 450.4,169.1 451.1,169.1 451.8,169.4 452.4,169.6 453.1,169.8 453.8,169.8 454.4,169.8 455.1,169.9 455.8,169.9 456.4,169.8 457.1,169.7 457.8,169.6 458.4,169.9 459.1,170.0 459.8,169.9 460.4,170.2 461.1,170.5 461.8,170.5 462.4,170.3 463.1,170.3 463.8,170.6 464.4,170.5 465.1,170.5 465.8,170.7 466.4,170.7 467.1,170.7 467.8,171.1 468.4,171.3 469.1,171.0 469.8,171.0 470.4,171.0 471.1,170.9 471.8,171.1 472.4,171.1 473.1,171.3 473.8,171.5 474.4,171.4 475.1,171.4 475.8,171.1 476.4,171.2 477.1,171.4 477.8,171.6 478.4,171.7 479.1,171.6 479.8,171.6 480.4,171.6 481.1,171.4 481.8,171.5 482.4,171.7 483.1,171.9 483.8,171.9 484.4,171.8 485.1,172.0 485.8,172.0 486.4,172.0 487.1,171.9 487.8,171.9 488.4,172.0 489.1,171.9 489.8,172.0 490.4,172.2 491.1,172.2 491.8,172.2 492.4,172.3 493.1,172.3 493.8,172.2 494.4,172.4 495.1,172.6 495.8,172.4 496.5,172.2 497.1,172.3 497.8,172.3 498.5,172.3 499.1,172.3 499.8,172.4 500.5,172.5 501.1,172.7 501.8,172.7 502.5,172.7 503.1,172.7 503.8,172.5 504.5,172.5 505.1,172.6 505.8,172.5 506.5,172.5 507.1,172.7 507.8,172.9 508.5,172.8 509.1,172.8 509.8,173.2 510.5,173.4 511.1,173.1 511.8,173.1 512.5,173.2 513.1,173.1 513.8,173.0 514.5,173.1 515.1,173.3 515.8,173.2 516.5,173.1 517.1,173.1 517.8,173.3 518.5,173.3 519.1,173.2 519.8,173.1 520.5,173.3 521.1,173.4 521.8,173.5 522.5,173.6 523.1,173.5 523.8,173.6 524.5,173.5 525.1,173.2 525.8,173.3 526.5,173.6 527.1,173.6 527.8,173.6" fill="none" stroke="#2d69b8" stroke-width="1.1" stroke-linejoin="round"/>
<polyline points="328.4,45.4 329.0,91.2 329.7,108.5 330.4,118.0 331.0,123.1 331.7,129.3 332.4,129.2 333.0,127.4 333.7,127.6 334.4,129.9 335.0,135.7 335.7,137.6 336.4,135.9 337.0,137.1 337.7,137.4 338.4,138.6 339.0,140.1 339.7,140.1 340.4,141.0 341.0,142.8 341.7,143.7 342.4,142.9 343.0,143.4 343.7,145.0 344.4,145.6 345.0,145.8 345.7,145.8 346.4,145.0 347.0,145.5 347.7,146.3 348.4,147.0 349.0,147.6 349.7,149.0 350.4,149.4 351.0,148.2 351.7,148.9 352.4,149.3 353.0,150.2 353.7,150.8 354.4,150.5 355.0,150.6 355.7,150.8 356.4,150.2 357.0,152.1 357.7,154.1 358.4,153.2 359.0,152.8 359.7,153.0 360.4,153.6 361.1,154.3 361.7,154.8 362.4,154.7 363.1,153.8 363.7,154.0 364.4,153.7 365.1,153.2 365.7,154.6 366.4,155.0 367.1,154.7 367.7,155.7 368.4,156.8 369.1,156.1 369.7,156.0 370.4,156.4 371.1,156.1 371.7,157.1 372.4,157.3 373.1,156.8 373.7,156.8 374.4,157.1 375.1,157.6 375.7,157.6 376.4,158.0 377.1,157.8 377.7,157.6 378.4,157.8 379.1,158.2 379.7,158.5 380.4,159.0 381.1,159.7 381.7,159.3 382.4,159.4 383.1,159.9 383.7,160.0 384.4,160.5 385.1,160.6 385.7,160.2 386.4,160.5 387.1,161.1 387.7,160.7 388.4,160.5 389.1,161.3 389.7,161.7 390.4,162.0 391.1,162.4 391.7,162.6 392.4,162.5 393.1,162.2 393.7,161.9 394.4,162.2 395.1,162.3 395.7,162.3 396.4,162.9 397.1,163.3 397.7,163.1 398.4,163.0 399.1,163.0 399.7,163.5 400.4,164.3 401.1,163.8 401.7,163.6 402.4,163.9 403.1,164.0 403.7,164.6 404.4,164.5 405.1,164.3 405.7,164.4 406.4,164.5 407.1,165.1 407.7,165.3 408.4,165.1 409.1,165.4 409.7,165.6 410.4,165.5 411.1,165.8 411.7,166.2 412.4,166.1 413.1,166.0 413.7,166.2 414.4,166.6 415.1,166.6 415.7,166.7 416.4,166.8 417.1,166.8 417.7,167.0 418.4,167.1 419.1,167.0 419.7,167.4 420.4,167.6 421.1,167.6 421.7,167.8 422.4,167.9 423.1,167.8 423.7,167.9 424.4,168.2 425.1,168.5 425.7,168.5 426.4,168.5 427.1,168.6 427.8,168.8 428.4,168.7 429.1,168.5 429.8,168.7 430.4,168.7 431.1,168.6 431.8,168.9 432.4,169.0 433.1,169.2 433.8,169.4 434.4,169.5 435.1,169.5 435.8,169.6 436.4,169.5 437.1,169.3 437.8,169.5 438.4,169.7 439.1,169.9 439.8,170.4 440.4,170.4 441.1,170.2 441.8,170.1 442.4,169.9 443.1,170.1 443.8,170.3 444.4,170.3 445.1,170.5 445.8,170.6 446.4,170.7 447.1,170.6 447.8,170.9 448.4,171.4 449.1,171.3 449.8,171.0 450.4,171.0 451.1,171.2 451.8,171.4 452.4,171.4 453.1,171.5 453.8,171.6 454.4,171.8 455.1,171.7 455.8,171.8 456.4,172.1 457.1,172.0 457.8,171.9 458.4,172.3 459.1,172.2 459.8,172.2 460.4,172.4 461.1,172.4 461.8,172.1 462.4,172.2 463.1,172.3 463.8,172.4 464.4,172.5 465.1,172.7 465.8,172.8 466.4,172.7 467.1,172.9 467.8,172.8 468.4,172.6 469.1,172.7 469.8,172.8 470.4,172.9 471.1,173.0 471.8,173.1 472.4,172.9 473.1,173.0 473.8,173.1 474.4,173.2 475.1,173.2 475.8,173.3 476.4,173.2 477.1,173.4 477.8,173.4 478.4,173.2 479.1,173.3 479.8,173.5 480.4,173.6 481.1,173.6 481.8,173.6 482.4,173.5 483.1,173.5 483.8,173.6 484.4,173.9 485.1,174.1 485.8,173.9 486.4,173.8 487.1,174.0 487.8,174.1 488.4,174.0 489.1,174.0 489.8,174.1 490.4,173.8 491.1,173.9 491.8,173.9 492.4,173.9 493.1,174.2 493.8,174.2 494.4,174.3 495.1,174.3 495.8,174.5 496.5,174.5 497.1,174.4 497.8,174.4 498.5,174.3 499.1,174.5 499.8,174.6 500.5,174.6 501.1,174.6 501.8,174.7 502.5,174.5 503.1,174.5 503.8,174.6 504.5,174.5 505.1,174.5 505.8,174.6 506.5,174.7 507.1,174.7 507.8,174.7 508.5,174.7 509.1,174.8 509.8,174.9 510.5,175.0 511.1,175.1 511.8,175.0 512.5,174.9 513.1,175.0 513.8,175.2 514.5,175.2 515.1,175.2 515.8,175.0 516.5,175.1 517.1,175.2 517.8,175.4 518.5,175.5 519.1,175.2 519.8,175.3 520.5,175.5 521.1,175.4 521.8,175.3 522.5,175.2 523.1,175.3 523.8,175.5 524.5,175.5 525.1,175.5 525.8,175.7 526.5,175.6 527.1,175.4 527.8,175.5" fill="none" stroke="#339c6b" stroke-width="1.1" stroke-linejoin="round"/>
<rect x="170.9" y="233.3" width="233.79999999999998" height="163.2" fill="none" stroke="#3c3c3c" stroke-width="1.05"/>
<line x1="187.70" y1="396.5" x2="187.70" y2="393.7" stroke="#3c3c3c" stroke-width="1"/>
<text x="187.70" y="406.8" text-anchor="middle" class="t">0</text>
<line x1="221.07" y1="396.5" x2="221.07" y2="393.7" stroke="#3c3c3c" stroke-width="1"/>
<text x="221.07" y="406.8" text-anchor="middle" class="t">50</text>
<line x1="254.44" y1="396.5" x2="254.44" y2="393.7" stroke="#3c3c3c" stroke-width="1"/>
<text x="254.44" y="406.8" text-anchor="middle" class="t">100</text>
<line x1="287.81" y1="396.5" x2="287.81" y2="393.7" stroke="#3c3c3c" stroke-width="1"/>
<text x="287.81" y="406.8" text-anchor="middle" class="t">150</text>
<line x1="321.18" y1="396.5" x2="321.18" y2="393.7" stroke="#3c3c3c" stroke-width="1"/>
<text x="321.18" y="406.8" text-anchor="middle" class="t">200</text>
<line x1="354.55" y1="396.5" x2="354.55" y2="393.7" stroke="#3c3c3c" stroke-width="1"/>
<text x="354.55" y="406.8" text-anchor="middle" class="t">250</text>
<line x1="387.92" y1="396.5" x2="387.92" y2="393.7" stroke="#3c3c3c" stroke-width="1"/>
<text x="387.92" y="406.8" text-anchor="middle" class="t">300</text>
<line x1="170.9" y1="396.60" x2="173.70000000000002" y2="396.60" stroke="#3c3c3c" stroke-width="1"/>
<text x="167.4" y="399.20" text-anchor="end" class="t">0.0</text>
<line x1="170.9" y1="363.94" x2="173.70000000000002" y2="363.94" stroke="#3c3c3c" stroke-width="1"/>
<text x="167.4" y="366.54" text-anchor="end" class="t">0.2</text>
<line x1="170.9" y1="331.28" x2="173.70000000000002" y2="331.28" stroke="#3c3c3c" stroke-width="1"/>
<text x="167.4" y="333.88" text-anchor="end" class="t">0.4</text>
<line x1="170.9" y1="298.62" x2="173.70000000000002" y2="298.62" stroke="#3c3c3c" stroke-width="1"/>
<text x="167.4" y="301.22" text-anchor="end" class="t">0.6</text>
<line x1="170.9" y1="265.96" x2="173.70000000000002" y2="265.96" stroke="#3c3c3c" stroke-width="1"/>
<text x="167.4" y="268.56" text-anchor="end" class="t">0.8</text>
<line x1="170.9" y1="233.30" x2="173.70000000000002" y2="233.30" stroke="#3c3c3c" stroke-width="1"/>
<text x="167.4" y="235.90" text-anchor="end" class="t">1.0</text>
<text transform="translate(150.0,307.8) rotate(-90)" text-anchor="middle" class="yl">Recall</text>
<text x="284.9" y="420.7" text-anchor="middle" class="l">Epochs</text>
<text x="178.8" y="247.3" class="g" font-weight="bold">(c)</text>
<polyline points="188.4,385.2 189.0,326.4 189.7,310.1 190.4,301.7 191.0,296.7 191.7,293.1 192.4,289.7 193.0,287.4 193.7,286.3 194.4,285.1 195.0,281.6 195.7,278.7 196.4,278.4 197.0,282.6 197.7,283.5 198.4,278.2 199.0,274.0 199.7,272.5 200.4,274.1 201.0,275.3 201.7,275.0 202.4,272.1 203.1,270.8 203.7,273.3 204.4,271.9 205.1,269.4 205.7,272.3 206.4,273.5 207.1,269.6 207.7,267.4 208.4,269.5 209.1,270.2 209.7,267.3 210.4,266.6 211.1,268.4 211.7,268.5 212.4,266.1 213.1,264.9 213.7,266.3 214.4,263.8 215.1,262.0 215.7,266.0 216.4,266.2 217.1,267.3 217.7,267.3 218.4,263.9 219.1,260.0 219.7,259.4 220.4,261.3 221.1,260.6 221.7,260.7 222.4,262.1 223.1,260.7 223.7,259.3 224.4,259.0 225.1,258.4 225.7,261.1 226.4,262.7 227.1,262.0 227.7,261.8 228.4,260.8 229.1,260.4 229.7,261.8 230.4,259.8 231.1,257.3 231.7,258.8 232.4,261.5 233.1,262.1 233.8,261.7 234.4,262.0 235.1,262.1 235.8,260.8 236.4,259.3 237.1,259.0 237.8,260.3 238.4,260.4 239.1,257.0 239.8,257.0 240.4,259.7 241.1,256.8 241.8,255.9 242.4,259.7 243.1,259.0 243.8,259.0 244.4,260.4 245.1,258.4 245.8,258.6 246.4,261.4 247.1,259.8 247.8,257.2 248.4,259.5 249.1,260.8 249.8,257.9 250.4,257.2 251.1,257.4 251.8,257.8 252.4,259.4 253.1,259.9 253.8,259.5 254.4,258.6 255.1,261.2 255.8,263.6 256.4,260.5 257.1,257.5 257.8,258.2 258.4,259.0 259.1,259.4 259.8,261.0 260.4,259.5 261.1,258.1 261.8,258.8 262.4,260.1 263.1,259.5 263.8,258.1 264.5,258.4 265.1,258.5 265.8,258.6 266.5,257.8 267.1,257.0 267.8,255.6 268.5,254.5 269.1,256.5 269.8,259.4 270.5,258.6 271.1,257.9 271.8,257.0 272.5,257.9 273.1,260.0 273.8,256.7 274.5,256.3 275.1,257.1 275.8,256.4 276.5,257.7 277.1,257.5 277.8,257.9 278.5,259.0 279.1,256.1 279.8,255.9 280.5,257.5 281.1,258.3 281.8,257.5 282.5,257.4 283.1,259.2 283.8,258.7 284.5,258.7 285.1,259.2 285.8,258.6 286.5,258.1 287.1,258.1 287.8,258.3 288.5,258.6 289.1,258.2 289.8,257.5 290.5,258.2 291.1,258.1 291.8,257.6 292.5,257.3 293.1,256.7 293.8,256.9 294.5,257.3 295.2,257.6 295.8,257.6 296.5,257.5 297.2,257.2 297.8,257.0 298.5,257.0 299.2,256.4 299.8,255.9 300.5,256.3 301.2,256.4 301.8,257.0 302.5,257.3 303.2,257.7 303.8,257.1 304.5,256.6 305.2,256.8 305.8,256.3 306.5,256.8 307.2,257.3 307.8,257.0 308.5,257.4 309.2,257.1 309.8,256.8 310.5,256.6 311.2,256.3 311.8,255.9 312.5,255.7 313.2,256.2 313.8,256.6 314.5,257.4 315.2,257.6 315.8,258.1 316.5,258.0 317.2,258.0 317.8,258.2 318.5,257.3 319.2,257.3 319.8,256.8 320.5,256.8 321.2,256.8 321.8,257.0 322.5,256.8 323.2,256.7 323.8,257.0 324.5,256.9 325.2,256.6 325.9,256.4 326.5,256.0 327.2,256.0 327.9,256.4 328.5,256.8 329.2,257.4 329.9,257.3 330.5,257.3 331.2,257.3 331.9,257.2 332.5,257.0 333.2,256.9 333.9,257.0 334.5,256.2 335.2,256.7 335.9,256.5 336.5,256.4 337.2,256.7 337.9,256.3 338.5,256.1 339.2,255.8 339.9,256.2 340.5,255.8 341.2,256.1 341.9,256.1 342.5,256.0 343.2,256.5 343.9,256.4 344.5,255.9 345.2,255.5 345.9,255.3 346.5,255.2 347.2,255.4 347.9,255.9 348.5,255.6 349.2,255.7 349.9,256.3 350.5,256.0 351.2,256.6 351.9,256.6 352.5,256.0 353.2,256.2 353.9,255.9 354.5,255.7 355.2,256.2 355.9,256.5 356.6,256.6 357.2,257.0 357.9,256.2 358.6,255.4 359.2,255.3 359.9,255.2 360.6,256.2 361.2,256.8 361.9,257.0 362.6,256.9 363.2,256.5 363.9,256.2 364.6,255.9 365.2,256.2 365.9,256.1 366.6,256.4 367.2,256.3 367.9,256.6 368.6,256.3 369.2,255.9 369.9,256.7 370.6,256.3 371.2,256.2 371.9,256.6 372.6,256.2 373.2,256.1 373.9,256.1 374.6,255.7 375.2,255.7 375.9,256.0 376.6,256.7 377.2,256.8 377.9,257.2 378.6,257.0 379.2,256.4 379.9,256.8 380.6,256.4 381.2,256.2 381.9,256.2 382.6,256.2 383.2,256.1 383.9,256.1 384.6,256.3 385.3,256.3 385.9,256.2 386.6,256.4 387.3,256.4 387.9,256.3" fill="none" stroke="#3a3a3a" stroke-width="1.1" stroke-linejoin="round"/>
<polyline points="188.4,385.2 189.0,328.0 189.7,313.3 190.4,304.3 191.0,300.4 191.7,298.2 192.4,294.3 193.0,293.4 193.7,293.6 194.4,292.2 195.0,289.4 195.7,287.9 196.4,286.8 197.0,286.7 197.7,287.6 198.4,287.8 199.0,287.0 199.7,285.9 200.4,285.2 201.0,285.0 201.7,285.0 202.4,283.9 203.1,281.9 203.7,281.4 204.4,282.3 205.1,280.6 205.7,278.4 206.4,279.2 207.1,280.3 207.7,281.3 208.4,282.1 209.1,280.1 209.7,277.0 210.4,274.9 211.1,275.1 211.7,276.9 212.4,276.8 213.1,277.4 213.7,277.6 214.4,277.0 215.1,276.6 215.7,273.9 216.4,271.5 217.1,272.4 217.7,273.7 218.4,275.2 219.1,275.8 219.7,272.6 220.4,270.7 221.1,271.1 221.7,271.5 222.4,270.5 223.1,270.9 223.7,272.4 224.4,269.3 225.1,269.7 225.7,271.7 226.4,271.0 227.1,269.8 227.7,269.5 228.4,271.0 229.1,270.9 229.7,269.6 230.4,270.1 231.1,272.0 231.7,271.0 232.4,269.8 233.1,269.0 233.8,268.8 234.4,269.7 235.1,268.9 235.8,267.8 236.4,266.9 237.1,267.1 237.8,269.5 238.4,269.5 239.1,267.6 239.8,267.4 240.4,266.8 241.1,266.7 241.8,266.0 242.4,265.8 243.1,265.4 243.8,265.9 244.4,269.2 245.1,268.9 245.8,263.9 246.4,263.1 247.1,265.6 247.8,265.0 248.4,265.1 249.1,264.9 249.8,264.3 250.4,262.4 251.1,261.3 251.8,262.7 252.4,263.0 253.1,262.6 253.8,264.1 254.4,263.4 255.1,262.9 255.8,263.0 256.4,262.1 257.1,261.9 257.8,260.6 258.4,260.8 259.1,262.4 259.8,263.1 260.4,262.1 261.1,262.1 261.8,262.8 262.4,262.4 263.1,262.3 263.8,261.6 264.5,261.6 265.1,261.9 265.8,262.1 266.5,263.6 267.1,262.1 267.8,259.5 268.5,260.6 269.1,260.7 269.8,259.8 270.5,261.5 271.1,260.6 271.8,261.3 272.5,262.3 273.1,259.9 273.8,260.7 274.5,259.8 275.1,259.2 275.8,259.4 276.5,259.0 277.1,259.3 277.8,259.2 278.5,257.7 279.1,257.2 279.8,258.3 280.5,257.8 281.1,258.5 281.8,259.2 282.5,258.9 283.1,258.0 283.8,257.8 284.5,258.1 285.1,258.8 285.8,258.8 286.5,259.0 287.1,259.5 287.8,259.8 288.5,259.9 289.1,259.1 289.8,259.5 290.5,259.7 291.1,258.9 291.8,257.9 292.5,257.8 293.1,257.5 293.8,257.8 294.5,258.5 295.2,257.9 295.8,258.1 296.5,258.0 297.2,258.0 297.8,258.4 298.5,258.3 299.2,258.8 299.8,259.0 300.5,258.1 301.2,257.8 301.8,258.3 302.5,257.5 303.2,258.0 303.8,257.9 304.5,257.0 305.2,258.4 305.8,259.2 306.5,259.8 307.2,260.0 307.8,259.1 308.5,258.5 309.2,257.9 309.8,257.5 310.5,257.3 311.2,256.9 311.8,258.0 312.5,258.2 313.2,258.2 313.8,258.5 314.5,257.2 315.2,257.1 315.8,256.8 316.5,256.9 317.2,257.1 317.8,257.1 318.5,257.7 319.2,257.4 319.8,257.4 320.5,257.7 321.2,257.3 321.8,257.6 322.5,257.9 323.2,259.1 323.8,260.3 324.5,261.4 325.2,260.6 325.9,259.0 326.5,258.5 327.2,257.7 327.9,258.4 328.5,258.1 329.2,258.3 329.9,258.3 330.5,257.6 331.2,257.1 331.9,256.3 332.5,256.2 333.2,256.8 333.9,257.0 334.5,257.0 335.2,257.2 335.9,256.4 336.5,256.6 337.2,257.9 337.9,257.6 338.5,257.4 339.2,257.1 339.9,255.9 340.5,255.8 341.2,256.9 341.9,257.9 342.5,258.6 343.2,258.8 343.9,258.6 344.5,258.0 345.2,257.4 345.9,256.8 346.5,257.0 347.2,257.1 347.9,257.3 348.5,257.8 349.2,258.0 349.9,256.7 350.5,256.4 351.2,256.2 351.9,256.1 352.5,256.9 353.2,257.5 353.9,257.4 354.5,256.7 355.2,256.8 355.9,256.2 356.6,256.6 357.2,256.6 357.9,257.4 358.6,257.2 359.2,257.1 359.9,256.3 360.6,255.7 361.2,257.2 361.9,257.4 362.6,258.9 363.2,258.8 363.9,257.3 364.6,256.8 365.2,255.8 365.9,255.5 366.6,255.4 367.2,255.7 367.9,256.5 368.6,256.5 369.2,256.6 369.9,256.7 370.6,256.1 371.2,256.6 371.9,256.4 372.6,256.2 373.2,256.1 373.9,255.6 374.6,255.8 375.2,255.9 375.9,256.5 376.6,256.6 377.2,256.7 377.9,256.9 378.6,257.0 379.2,257.0 379.9,257.0 380.6,257.1 381.2,257.1 381.9,256.6 382.6,256.2 383.2,256.0 383.9,255.9 384.6,256.0 385.3,256.2 385.9,256.2 386.6,255.8 387.3,256.0 387.9,255.6" fill="none" stroke="#2d69b8" stroke-width="1.1" stroke-linejoin="round"/>
<polyline points="188.4,385.2 189.0,323.1 189.7,308.4 190.4,300.6 191.0,295.9 191.7,292.7 192.4,291.7 193.0,291.0 193.7,289.5 194.4,286.9 195.0,285.5 195.7,286.4 196.4,286.3 197.0,284.1 197.7,283.2 198.4,285.7 199.0,283.6 199.7,280.2 200.4,279.6 201.0,278.4 201.7,278.2 202.4,278.2 203.1,278.1 203.7,278.7 204.4,280.3 205.1,280.9 205.7,278.2 206.4,275.2 207.1,275.1 207.7,276.2 208.4,275.3 209.1,274.2 209.7,274.5 210.4,274.4 211.1,275.2 211.7,275.4 212.4,273.6 213.1,270.7 213.7,269.1 214.4,270.4 215.1,271.2 215.7,270.8 216.4,270.7 217.1,269.9 217.7,268.9 218.4,270.0 219.1,268.9 219.7,267.7 220.4,269.9 221.1,267.4 221.7,267.1 222.4,269.0 223.1,268.7 223.7,267.3 224.4,268.9 225.1,269.5 225.7,268.3 226.4,267.0 227.1,263.4 227.7,263.8 228.4,266.3 229.1,265.8 229.7,262.9 230.4,263.5 231.1,265.7 231.7,264.4 232.4,265.1 233.1,266.6 233.8,265.2 234.4,264.7 235.1,263.5 235.8,263.6 236.4,265.4 237.1,266.4 237.8,265.4 238.4,263.5 239.1,262.4 239.8,262.1 240.4,264.2 241.1,264.1 241.8,263.3 242.4,262.5 243.1,262.1 243.8,263.4 244.4,263.6 245.1,262.3 245.8,261.8 246.4,260.0 247.1,258.7 247.8,262.3 248.4,263.3 249.1,261.1 249.8,260.3 250.4,260.6 251.1,261.0 251.8,262.9 252.4,264.4 253.1,262.1 253.8,261.2 254.4,261.9 255.1,260.6 255.8,262.3 256.4,264.5 257.1,262.1 257.8,260.8 258.4,261.5 259.1,259.8 259.8,259.6 260.4,260.6 261.1,260.0 261.8,261.4 262.4,259.9 263.1,257.9 263.8,259.8 264.5,259.1 265.1,259.3 265.8,260.9 266.5,261.0 267.1,260.5 267.8,259.9 268.5,259.4 269.1,259.2 269.8,259.1 270.5,258.0 271.1,257.8 271.8,257.8 272.5,257.9 273.1,258.9 273.8,260.6 274.5,259.4 275.1,258.8 275.8,258.7 276.5,257.5 277.1,257.7 277.8,257.6 278.5,257.0 279.1,257.7 279.8,257.8 280.5,256.1 281.1,255.8 281.8,255.8 282.5,256.5 283.1,257.3 283.8,255.9 284.5,255.4 285.1,256.4 285.8,255.9 286.5,256.4 287.1,256.8 287.8,256.2 288.5,256.3 289.1,256.0 289.8,256.1 290.5,256.1 291.1,256.2 291.8,256.2 292.5,255.7 293.1,255.5 293.8,255.6 294.5,255.9 295.2,255.9 295.8,255.5 296.5,255.4 297.2,255.7 297.8,255.9 298.5,255.6 299.2,256.0 299.8,256.2 300.5,256.2 301.2,257.1 301.8,257.2 302.5,256.9 303.2,256.6 303.8,255.8 304.5,255.9 305.2,256.0 305.8,256.1 306.5,255.9 307.2,255.5 307.8,255.2 308.5,255.6 309.2,255.7 309.8,255.6 310.5,256.0 311.2,255.5 311.8,255.6 312.5,256.0 313.2,256.0 313.8,255.9 314.5,255.6 315.2,255.0 315.8,254.5 316.5,254.5 317.2,254.9 317.8,255.1 318.5,255.4 319.2,255.0 319.8,254.9 320.5,255.1 321.2,255.3 321.8,255.5 322.5,255.4 323.2,254.9 323.8,254.7 324.5,254.7 325.2,254.9 325.9,255.2 326.5,254.9 327.2,255.2 327.9,255.0 328.5,254.5 329.2,255.0 329.9,255.2 330.5,254.6 331.2,254.6 331.9,254.2 332.5,254.3 333.2,254.9 333.9,255.5 334.5,255.5 335.2,254.8 335.9,254.3 336.5,253.8 337.2,253.9 337.9,254.1 338.5,254.1 339.2,254.1 339.9,254.0 340.5,254.2 341.2,254.1 341.9,253.9 342.5,254.0 343.2,253.8 343.9,253.8 344.5,253.8 345.2,253.3 345.9,253.3 346.5,253.3 347.2,253.9 347.9,254.9 348.5,255.0 349.2,255.2 349.9,255.2 350.5,254.7 351.2,254.6 351.9,254.7 352.5,254.2 353.2,253.9 353.9,254.0 354.5,254.1 355.2,254.0 355.9,254.0 356.6,254.0 357.2,253.6 357.9,253.5 358.6,253.9 359.2,253.8 359.9,254.3 360.6,254.3 361.2,254.1 361.9,253.6 362.6,254.1 363.2,254.5 363.9,254.7 364.6,255.0 365.2,254.4 365.9,254.3 366.6,254.1 367.2,254.3 367.9,254.1 368.6,253.7 369.2,253.6 369.9,253.9 370.6,254.1 371.2,254.2 371.9,254.4 372.6,254.2 373.2,253.9 373.9,254.0 374.6,253.8 375.2,253.4 375.9,253.6 376.6,253.4 377.2,253.5 377.9,253.6 378.6,253.2 379.2,253.9 379.9,254.3 380.6,254.6 381.2,254.7 381.9,254.2 382.6,254.0 383.2,253.9 383.9,254.5 384.6,254.5 385.3,254.3 385.9,254.0 386.6,253.3 387.3,253.3 387.9,253.0" fill="none" stroke="#d53f3e" stroke-width="1.1" stroke-linejoin="round"/>
<polyline points="188.4,385.2 189.0,331.3 189.7,315.0 190.4,302.5 191.0,298.1 191.7,296.3 192.4,291.6 193.0,288.2 193.7,285.4 194.4,281.6 195.0,280.2 195.7,280.6 196.4,280.0 197.0,281.2 197.7,280.0 198.4,278.3 199.0,276.7 199.7,274.3 200.4,275.0 201.0,274.7 201.7,274.7 202.4,273.4 203.1,273.3 203.7,275.3 204.4,272.8 205.1,272.1 205.7,273.2 206.4,271.5 207.1,270.8 207.7,270.1 208.4,270.2 209.1,269.6 209.7,266.7 210.4,266.8 211.1,266.2 211.7,266.6 212.4,267.4 213.1,265.4 213.7,266.1 214.4,267.4 215.1,266.1 215.7,265.6 216.4,265.3 217.1,267.5 217.7,266.8 218.4,263.4 219.1,261.7 219.7,260.8 220.4,262.5 221.1,263.6 221.7,263.8 222.4,263.7 223.1,263.2 223.7,261.4 224.4,260.2 225.1,260.6 225.7,261.3 226.4,262.0 227.1,260.9 227.7,261.4 228.4,261.3 229.1,259.3 229.7,260.4 230.4,261.2 231.1,261.4 231.7,259.4 232.4,257.8 233.1,258.3 233.8,259.0 234.4,261.1 235.1,260.8 235.8,258.1 236.4,256.1 237.1,256.7 237.8,258.4 238.4,258.7 239.1,257.4 239.8,258.9 240.4,259.0 241.1,258.7 241.8,259.3 242.4,257.4 243.1,257.3 243.8,258.0 244.4,256.7 245.1,257.2 245.8,259.0 246.4,259.5 247.1,258.8 247.8,256.8 248.4,257.1 249.1,260.0 249.8,259.3 250.4,256.4 251.1,257.8 251.8,258.7 252.4,257.6 253.1,258.1 253.8,257.8 254.4,256.8 255.1,258.3 255.8,261.4 256.4,261.1 257.1,256.3 257.8,253.8 258.4,255.7 259.1,258.1 259.8,256.0 260.4,254.0 261.1,254.1 261.8,252.7 262.4,253.5 263.1,255.4 263.8,256.6 264.5,256.4 265.1,256.6 265.8,255.5 266.5,254.5 267.1,253.9 267.8,253.9 268.5,255.1 269.1,255.5 269.8,254.9 270.5,254.9 271.1,254.4 271.8,252.8 272.5,256.1 273.1,258.1 273.8,255.7 274.5,254.3 275.1,252.3 275.8,253.1 276.5,255.3 277.1,254.4 277.8,253.9 278.5,252.1 279.1,252.3 279.8,255.4 280.5,253.8 281.1,251.9 281.8,254.5 282.5,255.3 283.1,254.2 283.8,253.5 284.5,252.8 285.1,253.2 285.8,254.0 286.5,254.5 287.1,254.2 287.8,253.6 288.5,253.1 289.1,254.1 289.8,254.4 290.5,253.1 291.1,251.9 291.8,251.7 292.5,252.9 293.1,253.5 293.8,252.9 294.5,252.3 295.2,252.8 295.8,252.5 296.5,252.4 297.2,252.4 297.8,251.5 298.5,251.7 299.2,252.1 299.8,252.3 300.5,252.3 301.2,252.2 301.8,252.2 302.5,252.3 303.2,252.6 303.8,252.7 304.5,252.9 305.2,252.6 305.8,251.9 306.5,252.0 307.2,251.5 307.8,251.5 308.5,251.8 309.2,252.0 309.8,252.1 310.5,251.8 311.2,251.6 311.8,251.1 312.5,251.5 313.2,252.3 313.8,252.5 314.5,252.9 315.2,253.1 315.8,252.8 316.5,252.7 317.2,252.3 317.8,251.7 318.5,251.6 319.2,251.2 319.8,251.4 320.5,251.7 321.2,251.6 321.8,251.9 322.5,251.7 323.2,251.7 323.8,251.9 324.5,251.9 325.2,251.7 325.9,251.5 326.5,251.4 327.2,251.2 327.9,251.7 328.5,251.8 329.2,251.8 329.9,252.2 330.5,252.1 331.2,251.9 331.9,251.7 332.5,251.4 333.2,251.1 333.9,251.4 334.5,251.2 335.2,251.0 335.9,251.2 336.5,250.7 337.2,251.0 337.9,251.2 338.5,251.3 339.2,251.7 339.9,251.6 340.5,251.6 341.2,251.5 341.9,251.2 342.5,251.2 343.2,251.3 343.9,251.4 344.5,251.7 345.2,251.5 345.9,251.9 346.5,252.2 347.2,252.1 347.9,252.2 348.5,251.6 349.2,251.5 349.9,251.0 350.5,251.2 351.2,251.0 351.9,251.1 352.5,251.6 353.2,251.5 353.9,252.0 354.5,251.8 355.2,251.7 355.9,251.4 356.6,251.1 357.2,251.3 357.9,250.9 358.6,251.0 359.2,251.1 359.9,250.7 360.6,251.0 361.2,250.7 361.9,251.0 362.6,250.9 363.2,251.0 363.9,251.1 364.6,251.0 365.2,250.9 365.9,250.7 366.6,250.7 367.2,250.8 367.9,251.4 368.6,251.4 369.2,251.3 369.9,251.0 370.6,251.0 371.2,250.7 371.9,251.1 372.6,251.0 373.2,250.8 373.9,251.3 374.6,251.2 375.2,251.9 375.9,251.9 376.6,251.8 377.2,252.0 377.9,251.7 378.6,251.3 379.2,251.3 379.9,251.2 380.6,251.3 381.2,251.5 381.9,251.3 382.6,251.1 383.2,250.6 383.9,250.6 384.6,250.8 385.3,250.9 385.9,250.9 386.6,250.9 387.3,250.9 387.9,250.9" fill="none" stroke="#339c6b" stroke-width="1.1" stroke-linejoin="round"/>
</svg>
</body></html>
